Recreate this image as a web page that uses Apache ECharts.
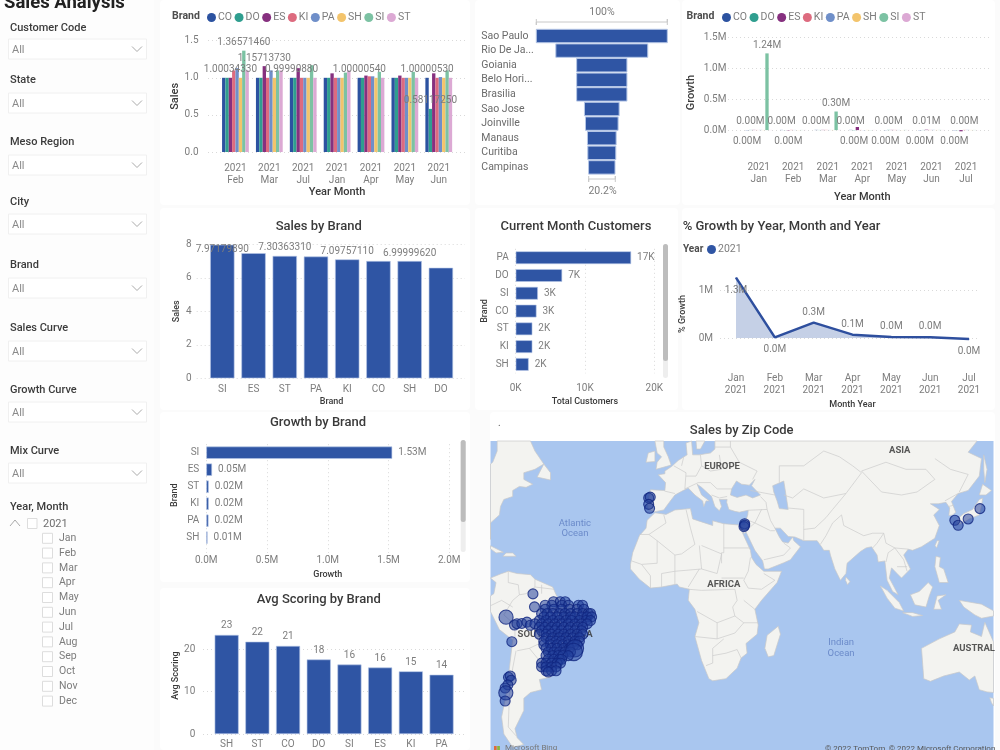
<!DOCTYPE html>
<html lang="en">
<head>
<meta charset="UTF-8">
<title>Sales Analysis</title>
<script src="https://cdn.jsdelivr.net/npm/echarts@6/dist/echarts.min.js"></script>
<style>
  html, body { margin: 0; padding: 0; background: #fbfbfb; overflow: hidden; }
  #main { width: 1000px; height: 750px; }
</style>
</head>
<body>
<div id="main"></div>
<script>
// brands and colours
var brands = ['CO', 'DO', 'ES', 'KI', 'PA', 'SH', 'SI', 'ST'];
var brandColors = ['#2c52a0', '#2f9e8f', '#86307f', '#dd6b7f', '#6f8fc9', '#f3c46c', '#7cc2a3', '#dca9d4'];

// Sales by Year Month and Brand
var salesMonths = ['2021\nFeb', '2021\nMar', '2021\nJul', '2021\nJan', '2021\nApr', '2021\nMay', '2021\nJun'];
var salesCO = [1.0, 1.0, 0.9999088, 1.0, 1.0000054, 1.0, 1.0000053];
var salesDO = [1.0, 1.0, 1.0, 1.0, 1.0, 1.0, 0.5811725];
var salesES = [1.0003433, 1.1571373, 1.13, 1.06, 1.03, 1.03, 1.06];
var salesKI = [1.10, 1.0, 1.0, 1.0, 1.02, 1.0, 1.0];
var salesPA = [1.13, 1.10, 1.0, 1.0, 1.02, 1.0, 1.01];
var salesSH = [1.0, 1.0, 1.0, 1.0, 1.0, 1.0, 1.0];
var salesSI = [1.3657146, 1.10, 1.17, 1.07, 1.08, 1.08, 1.10];
var salesST = [1.10, 1.10, 1.0, 1.10, 1.0, 1.0, 1.0];
var salesLabelled = [[2, 0], [6, 0], [2, 1], [0, 2], [0, 4], [0, 6], [1, 6]];

// Funnel by city
var funnelCities = ['Sao Paulo', 'Rio De Ja...', 'Goiania', 'Belo Hori...', 'Brasilia', 'Sao Jose', 'Joinville', 'Manaus', 'Curitiba', 'Campinas'];
var funnelPct = [100, 70.2, 38.4, 38.4, 38.4, 26.5, 24.9, 21.9, 21.4, 20.2];

// Growth by Year Month and Brand
var growthMonths = ['2021\nJan', '2021\nFeb', '2021\nMar', '2021\nApr', '2021\nMay', '2021\nJun', '2021\nJul'];
var growthCO = [-3000, 2500, 3000, 3000, -2000, -3000, -3000];
var growthDO = [2500, 1500, 2000, -3000, 3000, 2000, -2000];
var growthES = [3000, -4000, 3000, 50000, 3000, 6000, -20000];
var growthKI = [2000, 3000, 3000, 2000, 2500, 2500, 3000];
var growthPA = [2500, 2000, 2000, -2000, 2000, 3000, 3000];
var growthSH = [2000, 1500, 2000, 2000, 1500, 2000, 2000];
var growthSI = [1240000, 2000, 300000, -2000, 2500, 2500, 2000];
var growthST = [2000, 2000, 2500, 2000, 2000, 2000, 1000];
var growthLabelled = [[1, 0], [0, 0], [6, 0], [0, 1], [2, 1], [0, 2], [6, 2], [0, 3], [1, 3], [1, 4], [0, 4], [2, 5], [0, 5], [3, 6], [0, 6]];

// Sales by Brand
var salesBrandNames = ['SI', 'ES', 'ST', 'PA', 'KI', 'CO', 'SH', 'DO'];
var salesBrandValues = [7.9717989, 7.47, 7.3036331, 7.27, 7.0975711, 7.0, 6.9999962, 6.6];
var salesBrandLabelled = ['SI', 'ST', 'KI', 'SH'];

// Current Month Customers
var customerBrands = ['PA', 'DO', 'SI', 'CO', 'ST', 'KI', 'SH'];
var customerValues = [16650, 6700, 3200, 3000, 2400, 2400, 1870];

// % Growth by month
var pctMonths = ['Jan\n2021', 'Feb\n2021', 'Mar\n2021', 'Apr\n2021', 'May\n2021', 'Jun\n2021', 'Jul\n2021'];
var pctValues = [1257000, 14000, 320000, 70000, 20000, 15000, -20000];

// Growth by Brand
var growthBrandNames = ['SI', 'ES', 'ST', 'KI', 'PA', 'SH'];
var growthBrandValues = [1530000, 47000, 20000, 20000, 18000, 10000];

// Avg Scoring by Brand
var scoreBrands = ['SH', 'ST', 'CO', 'DO', 'SI', 'ES', 'KI', 'PA'];
var scoreValues = [23.4, 21.8, 20.8, 17.6, 16.4, 15.7, 14.8, 14.0];

// Slicers
var slicerNames = ['Customer Code', 'State', 'Meso Region', 'City', 'Brand', 'Sales Curve', 'Growth Curve', 'Mix Curve'];
var slicerMonths = ['Jan', 'Feb', 'Mar', 'Apr', 'May', 'Jun', 'Jul', 'Aug', 'Sep', 'Oct', 'Nov', 'Dec'];

// Map: zip points as [lon, lat, sales]
var zipPoints = [
  [-60.9, 1.9, 1], [-60.2, -3.9, 1], [-73, -8.5, 2], [-69.2, -12, 1], [-68.1, -11.4, 1], [-65.9, -11.3, 1], [-63.6, -10.7, 1], [-62.1, -12.1, 1], [-70.4, -19.2, 1],
  [-71.9, -33.5, 1], [-71.1, -33, 1], [-70.7, -34.6, 1], [-72.2, -36.3, 1], [-73.4, -37.4, 1], [-73.1, -39.1, 2], [-73.4, -41.9, 1],
  [-8.8, 41, 1], [-8.1, 41.3, 1], [-8.8, 38.8, 1], [-8.4, 37.4, 1],
  [34.4, 31.7, 1], [34.1, 30.6, 1], [34.4, 31.1, 1],
  [129, 33, 1], [130.5, 31.1, 1], [135, 33.5, 1], [140.3, 37.3, 1],
  [-51.6, -1.6, 1], [-48.6, -1.6, 1], [-46.4, -1.6, 1],
  [-55.4, -3.2, 1], [-52.4, -3.2, 1], [-47.9, -3.2, 1], [-44.9, -3.2, 1], [-40.4, -3.2, 1], [-38.6, -3.2, 1],
  [-55.4, -5, 1], [-51.5, -5, 1], [-48, -5, 1], [-44.5, -5, 1], [-41, -5, 1], [-38, -5, 1],
  [-57, -6.9, 1], [-54.5, -6.9, 1], [-52, -6.9, 1], [-49, -6.9, 1], [-46.5, -6.9, 1], [-44, -6.9, 1], [-41, -6.9, 1], [-38.5, -6.9, 1], [-36, -6.9, 1], [-35, -6.9, 1],
  [-56, -8.4, 1], [-53, -8.4, 1], [-50, -8.4, 1], [-47, -8.4, 1], [-44, -8.4, 1], [-42, -8.4, 1], [-39, -8.4, 1], [-36.5, -8.4, 1], [-34.5, -8.4, 1],
  [-58, -10, 1], [-55, -10, 1], [-52, -10, 1], [-49, -10, 1], [-46, -10, 1], [-43.5, -10, 1], [-40, -10, 1], [-37, -10, 1], [-35, -10, 1],
  [-60, -11.5, 1], [-57, -11.5, 1], [-54, -11.5, 1], [-51, -11.5, 1], [-48, -11.5, 1], [-45, -11.5, 1], [-42, -11.5, 1], [-39, -11.5, 1], [-36.5, -11.5, 1],
  [-58, -13, 1], [-55.5, -13, 1], [-52.5, -13, 1], [-50, -13, 1], [-47, -13, 1], [-44, -13, 1], [-41, -13, 1], [-38.5, -13, 1],
  [-57, -14.5, 1], [-54, -14.5, 1], [-51, -14.5, 1], [-48, -14.5, 1], [-45, -14.5, 1], [-42, -14.5, 1], [-39, -14.5, 1],
  [-58, -16, 1], [-55, -16, 1], [-52.5, -16, 1], [-49.5, -16, 1], [-47, -16, 1], [-44, -16, 1], [-41, -16, 1], [-38.5, -16, 1],
  [-55, -17.5, 1], [-52, -17.5, 1], [-49, -17.5, 1], [-46, -17.5, 1], [-43, -17.5, 1], [-40, -17.5, 1],
  [-56, -19, 1], [-53, -19, 1], [-50.5, -19, 1], [-48, -19, 1], [-45, -19, 1], [-42, -19, 1], [-40, -19, 1],
  [-56, -20.5, 1], [-53, -20.5, 1], [-50, -20.5, 1], [-47.5, -20.5, 1], [-45, -20.5, 1], [-42.5, -20.5, 1], [-41, -20.5, 1],
  [-55, -22, 1], [-52.5, -22, 1], [-50, -22, 1], [-47, -22, 1], [-44.5, -22, 1], [-42, -22, 3],
  [-54, -23.5, 1], [-51.5, -23.5, 1], [-49, -23.5, 1], [-46.5, -23.5, 1], [-44, -23.5, 1], [-42.5, -23.5, 3],
  [-55, -25, 1], [-52, -25, 1], [-49.5, -25, 1], [-47.5, -25, 1], [-45, -25, 1],
  [-54, -26.5, 1], [-51.5, -26.5, 1], [-49, -26.5, 1], [-48, -26.5, 1],
  [-57, -28, 1], [-55, -28, 1], [-52.5, -28, 1], [-50, -28, 1], [-48.5, -28, 1],
  [-57, -29.5, 1], [-55, -29.5, 1], [-52.5, -29.5, 1], [-50.5, -29.5, 1],
  [-55, -31, 1], [-52.5, -31, 1], [-50.5, -31, 1], [-54, -31.5, 1]
];
var mapContinentLabels = [['EUROPE', 24.2, 50.9], ['ASIA', 104.2, 55.1], ['AFRICA', 25, 6.1], ['SOUTH AMERICA', -50.9, -16.1], ['AUSTRAL', 137.6, -22]];
var mapOceanLabels = [['Atlantic\nOcean', -42, 29.9], ['Indian\nOcean', 77.8, -22]];

// Map: simplified land outlines (lon, lat), cut at the frame of the picture
var landEurasia = [[-6, 36.2], [-2, 36.8], [0, 39], [3, 42], [6, 43.2], [9, 44.3], [12, 42], [15.5, 40], [16, 38], [17, 40], [18.5, 40], [15, 42], [13, 45.5], [15, 44.5], [19.5, 41.5], [21, 38], [23, 36.5], [24, 38], [23, 40.5], [26.5, 40.5], [26.3, 39.5], [27.3, 37], [30, 36.3], [32, 36], [36, 36.7], [35.8, 35], [34.3, 31.3], [32.5, 31], [32.5, 30], [34.2, 27.8], [35, 28.5], [39, 21], [42.5, 16.5], [43.3, 13], [45, 13], [52, 15.7], [55, 17], [59.5, 22.5], [56.5, 25], [56, 26.5], [54, 24], [51.5, 24.5], [50, 26.5], [48, 30], [50.5, 30], [54, 26.7], [57, 26.5], [61, 25], [67, 25], [69, 22.5], [70, 21], [72.5, 21], [73, 19], [75, 13], [77.5, 8], [80, 11], [80.5, 15.5], [86.5, 20.5], [89, 22], [91.5, 22.5], [94, 19], [94.5, 16], [97.5, 16.5], [98.5, 8], [101, 3], [103.5, 1.5], [99.5, 9], [100.5, 13.5], [103, 11], [105, 9], [109, 13], [106, 19], [108, 21.5], [110, 21], [114, 22.5], [120, 26], [122, 31], [119.5, 35], [122, 37], [118, 39], [121.5, 39], [125, 39.5], [126.7, 37.5], [126.3, 34.8], [128, 35], [129.4, 36], [127.5, 39.8], [130.5, 42.5], [135, 43.5], [140, 48], [141, 53], [135, 54.7], [139, 57.5], [21, 57.5], [21, 55.5], [19, 54.5], [14, 54], [11, 54], [10.5, 57.5], [8, 57], [8.5, 54], [4.5, 52.5], [1.5, 50.8], [-1.5, 49.5], [-1.5, 48.7], [-4.5, 48.4], [-1.2, 46], [-1.5, 43.5], [-8, 43.7], [-9.3, 39], [-9, 37], [-6, 36.2]];
var blackSea = [[28, 42], [28.5, 44], [30.7, 46.5], [33, 45.5], [36.5, 45.2], [39, 47], [37.5, 45], [41.5, 42], [38, 41], [35, 42], [31, 41.2], [28, 42]];
var caspianSea = [[47, 45], [52, 46.5], [53, 42], [54, 37], [50, 37.3], [49, 40], [47.5, 43], [47, 45]];
var landAfrica = [[-6, 35.8], [-1, 35.2], [3, 36.8], [10, 37.3], [11, 33.5], [15, 32.4], [20, 31], [20, 32.8], [25, 31.7], [32, 31.2], [32.5, 30], [34, 27], [37, 21], [37.5, 18], [39.5, 15], [43, 12], [51, 12], [49, 7], [42, -1], [39, -5], [40.5, -12], [40, -16], [35, -20], [35.5, -24], [32.8, -26], [31, -30], [26, -34], [20, -34.8], [18.3, -34], [15, -27], [12, -17], [13.8, -11], [12, -5], [9, -1], [9.5, 4], [5, 5], [4, 6.3], [-3, 5], [-8, 4.5], [-13, 8.5], [-17, 13], [-17, 15], [-16, 20], [-13, 27], [-10, 30], [-9.5, 33], [-6, 35.8]];
var landSouthAmerica = [[-80, 9], [-75.5, 10.8], [-72, 12], [-68, 11], [-62, 10.5], [-60, 8.5], [-52, 5], [-50, 0.5], [-44, -2.5], [-37, -4.8], [-35, -7.5], [-39, -14], [-39, -18], [-41, -22], [-48, -25.5], [-48.7, -28], [-53, -33.5], [-58, -34.3], [-57, -38], [-62, -39], [-65, -41], [-65, -45], [-69, -50.5], [-68, -53], [-65, -54.8], [-70, -55.5], [-74, -52], [-75, -47], [-73, -40], [-71.5, -30], [-70, -18.5], [-76, -14], [-80, -6], [-80, 1], [-78.5, 2], [-77.5, 7], [-80, 9]];
var landNorthAmerica = [[-80, 25.5], [-80, 32], [-76, 35], [-75.5, 38], [-74, 40.5], [-70, 41.5], [-70, 43.5], [-67, 44.8], [-64, 44.5], [-61, 45.5], [-65, 47], [-65, 49], [-60, 50], [-56, 51.5], [-60, 55], [-62, 57.5], [-77, 57.5], [-77, 55], [-79, 52], [-80, 51.5], [-80, 25.5]];
var landAustralia = [[146.4, -19.3], [142.5, -10.8], [141, -17], [136, -15], [136.5, -12], [131, -11.5], [129, -15], [122, -18], [114, -22], [115, -34], [118, -35], [124, -33], [131, -31.5], [135.5, -34.5], [138, -33], [140, -38], [143.5, -38.8], [146.4, -39], [146.4, -19.3]];
var landIslands = [
  [[-59, 47.7], [-53, 46.8], [-53, 49], [-56, 51.5], [-58, 49], [-59, 47.7]],
  [[-80, 22.9], [-74.2, 20.2], [-77.5, 19.9], [-80, 21.7], [-80, 22.9]],
  [[-74.4, 18.5], [-68.5, 18.5], [-70, 19.9], [-73, 19.9], [-74.4, 18.5]],
  [[-5.5, 50], [1.3, 51.2], [0, 53.5], [-2, 56], [-2, 57.5], [-6, 57.5], [-5, 54.5], [-3, 53.5], [-5, 52], [-5.5, 50]],
  [[-10, 52], [-6, 52.2], [-6, 55], [-9, 54.5], [-10, 52]],
  [[12.5, 57.5], [12.8, 55.5], [14.5, 55.5], [16.5, 57.5], [12.5, 57.5]],
  [[49.5, -12.5], [50.5, -16], [47.5, -25], [45, -25.5], [43.5, -22], [44.5, -16.5], [49.5, -12.5]],
  [[80, 9.5], [81.8, 7.5], [80.7, 6], [79.8, 8], [80, 9.5]],
  [[95.5, 5.5], [98.5, 3.5], [104, -2], [106, -5.8], [102, -4.5], [98.5, 0], [95.5, 5.5]],
  [[105.5, -6.5], [110, -6.5], [114.5, -7.8], [110, -8.2], [105.5, -6.5]],
  [[109, 1.5], [113, 3], [117, 7], [119, 5], [117.5, 1], [116, -4], [111, -3], [109, 1.5]],
  [[119.5, -5], [121, 1], [125, 1.5], [121.5, -1], [123, -5], [119.5, -5]],
  [[120.5, 18.5], [122.5, 18], [122, 14], [124, 13], [126, 7], [122, 7], [120, 14], [120.5, 18.5]],
  [[131, -1], [141, -2.7], [146.4, -5.7], [146.4, -8], [141, -9], [138, -7.5], [133, -4], [131, -1]],
  [[121, 25], [122, 25], [120.8, 22], [120.1, 23], [121, 25]],
  [[130, 31.5], [131.5, 31.5], [135.5, 33.5], [140, 35], [141, 38], [141.5, 41], [140, 40.5], [137, 37], [133, 35.5], [130.8, 34], [130, 31.5]],
  [[140, 42], [141.5, 45.5], [145.5, 43.5], [143, 42], [140, 42]],
  [[142, 54], [143.5, 50], [142.5, 46], [142, 50], [142, 54]],
  [[144.7, -40.8], [146.4, -41], [146.4, -43.5], [145.5, -42.5], [144.7, -40.8]]
];
var borderLines = [
  [[-51.5, 4], [-60, 5], [-64, 2], [-67, 1.5], [-70, -1], [-74, -7.5], [-70, -11], [-65, -10], [-60, -14], [-58, -20], [-54.5, -25.5], [-57.5, -30], [-53.5, -33.7]],
  [[-72, 12], [-72, 7], [-67.5, 6], [-67, 1.5]], [[-80, -3.4], [-75, -1], [-70, -4]], [[-69, -11], [-69, -17], [-70, -18.5]],
  [[-68.5, -23], [-70, -30], [-71.5, -40], [-72, -50], [-68.5, -52.5]], [[-68, -23], [-62.5, -22], [-58, -20]], [[-60, 8.5], [-60, 5]], [[-57, 6], [-57, 2]], [[-62.5, -22], [-58, -27], [-54.5, -25.5]],
  [[-13, 27.5], [-8.7, 27.5]], [[-2, 35], [-1, 32], [-8.7, 27.5], [-5, 25], [3, 19], [6, 19.5], [12, 23.5], [10, 30], [8, 37]], [[25, 31.7], [25, 20], [24, 20], [24, 15.5]], [[25, 22], [37, 22]],
  [[15, 23], [24, 19.5], [22, 11], [15, 13], [14, 23]], [[3, 19], [3, 12], [15, 13]], [[3, 6.3], [3, 12]], [[14, 13], [9, 5]], [[-16.5, 16.5], [-12, 15], [-5, 15.5], [-5, 25]],
  [[-12, 15], [-8, 10], [-8, 4.5]], [[-3, 5], [-3, 11], [3, 12]], [[37, 18], [36, 12], [34, 8], [36, 4.5], [42, 4], [48, 8], [43, 11]],
  [[9, 4], [15, 3.5], [30, 4], [31, -1], [29, -4], [30, -8], [22, -11], [13, -6]], [[24, 9], [34, 9]], [[34, -1], [39, -5]], [[30, -8], [34, -11], [40.5, -11]],
  [[12, -17], [22, -18], [22, -11]], [[22, -18], [30, -15.5], [34, -11]], [[17, -29], [20, -28], [20, -22], [25, -18]], [[20, -25], [26, -24], [31, -22.5], [32.8, -26]],
  [[-9, 42], [-6.5, 42], [-7, 37.2]], [[-1.7, 43.3], [3, 42.5]], [[2.5, 51], [8, 49], [7.5, 44]], [[6, 51], [7, 53.5]], [[14.5, 54], [15, 51], [12.5, 48], [8, 48]],
  [[15, 51], [19, 49.5], [24, 50], [23, 54]], [[24, 51.5], [32, 52], [40, 49.5], [38, 47]], [[21, 56], [28, 56], [28, 57.5]], [[28, 56], [32, 52]],
  [[13.5, 46], [19, 46], [22, 44], [26, 44], [28.5, 44]], [[19.5, 42], [23, 41], [26.5, 41.5]], [[7.5, 44], [13.5, 46]], [[36, 36.7], [44.5, 37], [44, 39.5], [41.5, 41.5]], [[37, 43.5], [48, 42]],
  [[36, 33], [39, 32], [42, 37]], [[35, 29], [39, 32], [46, 29], [48, 29]], [[43, 17], [52, 19], [55, 22], [52, 24]], [[44.5, 37], [46, 33], [48, 30]], [[61, 25.2], [61, 31], [61, 37], [54, 37.5]],
  [[61, 29.5], [66, 30], [71, 34], [74, 37]], [[52, 42], [56, 41], [61, 44], [70, 41], [80, 42.5]], [[50, 46], [50, 51], [61, 51], [70, 55], [77, 53.5], [83, 51], [87, 49]], [[74, 37], [80, 42.5], [87, 49]],
  [[87, 49.5], [98, 52], [107, 50], [116, 50], [120, 47], [112, 43], [105, 42], [96, 43], [87, 49.5]], [[120, 53], [127, 50], [135, 48.5], [131, 43]],
  [[68.5, 23.5], [71, 27], [74, 32], [78, 35], [79, 31], [88, 27], [92, 28], [97, 28], [94, 24], [92, 22]], [[97, 28], [98, 24], [102, 22], [108, 21.5]], [[98, 16], [99, 20], [102, 22]],
  [[102, 22], [106, 17], [107.5, 12]], [[103, 14], [107.5, 14]], [[126, 38], [128.5, 38.5]], [[124.5, 40], [130.5, 42.5]]
];

// ---- styles
var FONT = 'Roboto, "Noto Sans", sans-serif';
var BLUE = '#2f55a4';
var BAR_EDGE = '#b5c6e6';
var TICK = '#7d7d7d';
var DARK = '#3a3a3a';
var tickFont = { color: TICK, fontSize: 10, fontFamily: FONT };

var option = {
  animation: false,
  backgroundColor: '#fbfbfb',
  textStyle: { fontFamily: FONT },
  grid: [], xAxis: [], yAxis: [], series: [], legend: [], graphic: []
};
var g = option.graphic;

function dotted(extra) {
  return Object.assign({ show: true, lineStyle: { color: '#d9d9d9', type: [1, 3], width: 1 } }, extra);
}
function axisName(size, padding) {
  return { color: DARK, fontSize: size, fontWeight: 500, fontFamily: FONT, padding: padding || 0 };
}
function text(x, y, str, fill, size, weight, align) {
  g.push({
    type: 'text', z: 20, silent: true,
    style: { x: x, y: y, text: str, fill: fill, textAlign: align || 'left', textVerticalAlign: 'middle', font: (weight || 400) + ' ' + size + 'px ' + FONT }
  });
}
function rect(x, y, w, h, fill, stroke, r, z) {
  g.push({ type: 'rect', z: z == null ? -10 : z, silent: true, shape: { x: x, y: y, width: w, height: h, r: r || 0 }, style: { fill: fill, stroke: stroke || null, lineWidth: 1 } });
}
function chevron(cx, cy, w, h, up) {
  g.push({ type: 'polyline', z: 20, silent: true, shape: { points: [[cx - w, cy + (up ? h : -h)], [cx, cy + (up ? -h : h)], [cx + w, cy + (up ? h : -h)]] }, style: { stroke: '#aaaaaa', lineWidth: 1, fill: null } });
}
function bracket(x1, x2, y) {
  g.push({ type: 'polyline', z: 20, silent: true, shape: { points: [[x1, y - 3], [x1, y + 3], [x1, y], [x2, y], [x2, y - 3], [x2, y + 3]] }, style: { stroke: '#c8c8c8', lineWidth: 1, fill: null } });
}
function addPlot(box, x, y) {
  option.grid.push({ left: box[0], top: box[1], width: box[2] - box[0], height: box[3] - box[1] });
  x.gridIndex = y.gridIndex = option.grid.length - 1;
  option.xAxis.push(x);
  option.yAxis.push(y);
  return option.grid.length - 1;
}
// the report's gridlines run wider than the bars: a bare plot behind the real one
function backLines(box, min, max, interval, split) {
  addPlot(box, { type: 'value', show: false, min: 0, max: 1 }, {
    type: 'value', min: min, max: max, interval: interval,
    axisLine: { show: false }, axisTick: { show: false }, axisLabel: { show: false }, splitLine: split || dotted()
  });
}
function catAxis(names, extra) {
  return Object.assign({
    type: 'category', data: names,
    axisLine: { show: false }, axisTick: { show: false }, axisLabel: Object.assign({}, tickFont), splitLine: { show: false }
  }, extra);
}
function valAxis(extra) {
  return Object.assign({
    type: 'value', axisLine: { show: false }, axisTick: { show: false }, axisLabel: Object.assign({}, tickFont), splitLine: dotted()
  }, extra);
}
function millions(d) {
  return function (v) { return (Math.abs(v) / 1e6).toFixed(d) + 'M'; };
}
var noSplit = { show: false };

// ---- panels
rect(0, 0, 154, 750, '#fdfdfd');
[[160, 0, 310, 205], [475, 0, 205, 205], [682, 0, 313, 205], [160, 208, 310, 202], [475, 208, 203, 202], [682, 208, 313, 202], [160, 412, 310, 170], [160, 588, 310, 162], [490, 412, 505, 338]].forEach(function (p) {
  rect(p[0], p[1], p[2], p[3], '#ffffff', null, 4);
});

// ---- slicers
text(4, 3.5, 'Sales Analysis', '#222222', 18.5, 700);
var slicerLabelY = [28, 80, 142, 202, 265, 328, 390, 451];
var slicerBoxY = [49, 103, 165, 224, 288, 351, 412, 473];
slicerNames.forEach(function (name, i) {
  text(10, slicerLabelY[i], name, '#3c3c3c', 11, 500);
  rect(8.5, slicerBoxY[i] - 10, 138, 20, '#ffffff', '#f0f0f0', 0, 1);
  text(12, slicerBoxY[i] + 1, 'All', '#8a8a8a', 11);
  chevron(137, slicerBoxY[i], 5, 2.5);
});
text(10, 507.5, 'Year, Month', '#3c3c3c', 11, 500);
chevron(15, 523, 5, 3, true);
rect(27.5, 518.5, 9.5, 10, '#ffffff', '#dddddd', 0, 1);
text(43, 524, '2021', '#6e6e6e', 11);
slicerMonths.forEach(function (m, i) {
  var y = 538.3 + i * 14.8;
  rect(42.5, y - 5, 10, 10, '#ffffff', '#dddddd', 0, 1);
  text(59, y, m, '#7c7c7c', 10.5);
});

// ---- chart 1: Sales by Year Month and Brand
var salesSeries = [salesCO, salesDO, salesES, salesKI, salesPA, salesSH, salesSI, salesST];
backLines([208, 40.7, 467, 152], 0, 1.5, 0.5);
var p1 = addPlot([218.5, 40.7, 455.7, 152],
  catAxis(salesMonths, { name: 'Year Month', nameLocation: 'middle', nameGap: 33, nameTextStyle: axisName(11), axisLabel: Object.assign({}, tickFont, { margin: 10, lineHeight: 12 }) }),
  valAxis({ min: 0, max: 1.5, interval: 0.5, splitLine: noSplit, axisLabel: Object.assign({}, tickFont, { margin: 20, formatter: function (v) { return v.toFixed(1); } }), name: 'Sales', nameLocation: 'middle', nameGap: 33, nameTextStyle: axisName(11) }));
brands.forEach(function (b, i) {
  option.series.push({
    type: 'bar', name: b, xAxisIndex: p1, yAxisIndex: p1, barGap: 0, barCategoryGap: '21%',
    itemStyle: { color: brandColors[i] },
    label: { show: false, position: 'top', distance: 3, color: TICK, fontSize: 10, fontFamily: FONT, formatter: function (p) { return p.value.toFixed(8); } },
    data: salesSeries[i].map(function (v, m) {
      var on = salesLabelled.some(function (l) { return l[0] === i && l[1] === m; });
      return on ? { value: v, label: { show: true } } : v;
    })
  });
});
text(172, 16, 'Brand', '#4d4d4d', 10.5, 700);
option.legend.push({
  left: 202, top: 7, itemWidth: 9, itemHeight: 9, itemGap: 2.5, icon: 'circle', selectedMode: false, data: brands,
  textStyle: { color: TICK, fontSize: 10.5, fontFamily: FONT, padding: [0, 0, 0, -3] }
});

// ---- chart 2: funnel
var p2 = addPlot([536.3, 28.7, 667.3, 174.7],
  { type: 'value', min: 0, max: 100, show: false },
  catAxis(funnelCities, { inverse: true, axisLabel: { color: '#6b6b6b', fontSize: 10.5, fontFamily: FONT, align: 'left', margin: 55 } }));
option.series.push({
  type: 'custom', name: 'Funnel', xAxisIndex: p2, yAxisIndex: p2,
  data: funnelPct.map(function (v, i) { return [v, i]; }),
  encode: { x: 0, y: 1 },
  renderItem: function (params, api) {
    var pct = api.value(0), row = api.value(1);
    var a = api.coord([50 - pct / 2, row]), b = api.coord([50 + pct / 2, row]);
    return { type: 'rect', shape: { x: a[0], y: a[1] - 6.7, width: b[0] - a[0], height: 13.4 }, style: { fill: BLUE, stroke: BAR_EDGE, lineWidth: 1 } };
  }
});
text(602, 12, funnelPct[0] + '%', TICK, 10.5, 400, 'center');
bracket(536.3, 667.3, 22);
text(602.5, 191, funnelPct[funnelPct.length - 1] + '%', TICK, 10.5, 400, 'center');
bracket(588.7, 615.3, 179);

// ---- chart 3: Growth by Year Month and Brand
var growthSeries = [growthCO, growthDO, growthES, growthKI, growthPA, growthSH, growthSI, growthST];
backLines([728, 37.3, 990, 161], -500000, 1500000, 500000, dotted({ showMinLine: false }));
var p3 = addPlot([741.4, 37.3, 983.3, 161],
  catAxis(growthMonths, { name: 'Year Month', nameLocation: 'middle', nameGap: 31, nameTextStyle: axisName(11), axisLabel: Object.assign({}, tickFont, { margin: 0.5, lineHeight: 12 }) }),
  valAxis({ min: -500000, max: 1500000, interval: 500000, splitLine: noSplit, axisLabel: Object.assign({}, tickFont, { margin: 15, formatter: function (v) { return v < 0 ? '' : millions(1)(v); } }), name: 'Growth', nameLocation: 'middle', nameGap: 45, nameTextStyle: axisName(11, [0, 0, 0, 13]) }));
brands.forEach(function (b, i) {
  option.series.push({
    type: 'bar', name: b, xAxisIndex: p3, yAxisIndex: p3, barGap: 0, barCategoryGap: '23%',
    itemStyle: { color: brandColors[i] },
    label: { show: false, position: 'top', distance: 3, color: TICK, fontSize: 10, fontFamily: FONT, formatter: function (p) { return millions(2)(p.value); } },
    data: growthSeries[i].map(function (v, m) {
      var on = growthLabelled.some(function (l) { return l[0] === i && l[1] === m; });
      if (!on) return v;
      return { value: v, label: v < 0 ? { show: true, position: 'bottom', distance: 6 } : { show: true } };
    })
  });
});
text(686.5, 16, 'Brand', '#4d4d4d', 10.5, 700);
option.legend.push({
  left: 717, top: 7, itemWidth: 9, itemHeight: 9, itemGap: 2.5, icon: 'circle', selectedMode: false, data: brands,
  textStyle: { color: TICK, fontSize: 10.5, fontFamily: FONT, padding: [0, 0, 0, -3] }
});

// ---- chart 5: Sales by Brand
text(318.7, 226.7, 'Sales by Brand', DARK, 13, 500, 'center');
backLines([196.7, 244.3, 465, 378.3], 0, 8, 2);
var p5 = addPlot([206.7, 244.3, 456.5, 378.3],
  catAxis(salesBrandNames, { name: 'Brand', nameLocation: 'middle', nameGap: 19, nameTextStyle: axisName(9), axisLabel: Object.assign({}, tickFont, { margin: 6.5 }) }),
  valAxis({ min: 0, max: 8, interval: 2, splitLine: noSplit, axisLabel: Object.assign({}, tickFont, { margin: 15 }), name: 'Sales', nameLocation: 'middle', nameGap: 25, nameTextStyle: axisName(9) }));
option.series.push({
  type: 'bar', name: 'Sales', xAxisIndex: p5, yAxisIndex: p5, barWidth: 24.3,
  itemStyle: { color: BLUE, borderColor: BAR_EDGE, borderWidth: 0.6 },
  label: { show: false, color: TICK, fontSize: 10, fontFamily: FONT, formatter: function (p) { return p.value.toFixed(8); } },
  data: salesBrandValues.map(function (v, i) {
    var name = salesBrandNames[i];
    if (salesBrandLabelled.indexOf(name) < 0) return v;
    var inside = v > 7.9;
    return { value: v, label: { show: true, position: inside ? 'insideTop' : 'top', distance: inside ? 0 : 3 } };
  })
});

// ---- chart 6: Current Month Customers
text(500.5, 226.7, 'Current Month Customers', DARK, 13, 500);
var p6 = addPlot([515.7, 248.8, 654.3, 373.3],
  valAxis({ min: 0, max: 20000, interval: 10000, axisLabel: Object.assign({}, tickFont, { margin: 10.5, formatter: function (v) { return (v / 1000) + 'K'; } }), name: 'Total Customers', nameLocation: 'middle', nameGap: 23.5, nameTextStyle: axisName(9) }),
  catAxis(customerBrands, { inverse: true, axisLabel: Object.assign({}, tickFont, { margin: 7 }), name: 'Brand', nameLocation: 'middle', nameGap: 26, nameTextStyle: axisName(9) }));
option.series.push({
  type: 'bar', name: 'Total Customers', xAxisIndex: p6, yAxisIndex: p6, barWidth: 12.7, data: customerValues,
  itemStyle: { color: BLUE, borderColor: BAR_EDGE, borderWidth: 0.6 },
  label: { show: true, position: 'right', distance: 6, color: TICK, fontSize: 10, fontFamily: FONT, formatter: function (p) { return Math.round(p.value / 1000) + 'K'; } }
});
rect(663, 244, 5, 134, '#eeeeee', null, 2.5, 15);
rect(663, 244, 5, 117, '#bdbdbd', null, 2.5, 16);

// ---- chart 7: % Growth
text(682.7, 226.7, '% Growth by Year, Month and Year', DARK, 13, 500);
backLines([720, 242, 980, 386], -1000000, 2000000, 1000000, dotted({ showMinLine: false, showMaxLine: false }));
var p7 = addPlot([736, 242, 969, 386],
  catAxis(pctMonths, { boundaryGap: false, axisLabel: Object.assign({}, tickFont, { margin: -14, lineHeight: 12 }), name: 'Month Year', nameLocation: 'middle', nameGap: 14, nameTextStyle: axisName(9) }),
  valAxis({ min: -1000000, max: 2000000, interval: 1000000, splitLine: noSplit, axisLabel: Object.assign({}, tickFont, { margin: 23, formatter: function (v) { return v < 0 || v > 1000000 ? '' : (v / 1e6) + 'M'; } }), name: '% Growth', nameLocation: 'middle', nameGap: 49, nameTextStyle: axisName(9) }));
option.series.push({
  type: 'line', name: '2021', xAxisIndex: p7, yAxisIndex: p7, symbol: 'circle', symbolSize: 1, showSymbol: true, showAllSymbol: true,
  lineStyle: { color: '#2e4f9e', width: 2.5 }, itemStyle: { color: BLUE },
  areaStyle: { color: 'rgba(47,85,164,0.4)', origin: 0 },
  label: { show: true, position: 'top', distance: 5, color: TICK, fontSize: 10, fontFamily: FONT, formatter: function (p) { return millions(1)(p.value); } },
  data: pctValues.map(function (v, i) {
    return i === 0 || i === 1 || v < 0 ? { value: v, label: { position: 'bottom', distance: 7 } } : v;
  })
});
text(683, 249, 'Year', '#4d4d4d', 10, 700);
option.legend.push({
  left: 702, top: 239, itemWidth: 9, itemHeight: 9, icon: 'circle', selectedMode: false, data: ['2021'],
  textStyle: { color: TICK, fontSize: 10.5, fontFamily: FONT, padding: [0, 0, 0, -3] }
});

// ---- chart 8: Growth by Brand
text(318, 422.7, 'Growth by Brand', DARK, 13, 500, 'center');
addPlot([206.3, 444.2, 449.3, 553],
  { type: 'value', min: 0, max: 2000000, interval: 500000, axisLine: { show: false }, axisTick: { show: false }, axisLabel: { show: false }, splitLine: dotted() },
  { type: 'value', show: false, min: 0, max: 1 });
var p8 = addPlot([206.3, 444.2, 449.3, 546.2],
  valAxis({ min: 0, max: 2000000, interval: 500000, splitLine: noSplit, axisLabel: Object.assign({}, tickFont, { margin: 9.5, formatter: millions(1) }), name: 'Growth', nameLocation: 'middle', nameGap: 24, nameTextStyle: axisName(9) }),
  catAxis(growthBrandNames, { inverse: true, axisLabel: Object.assign({}, tickFont, { margin: 7 }), name: 'Brand', nameLocation: 'middle', nameGap: 27, nameTextStyle: axisName(9) }));
option.series.push({
  type: 'bar', name: 'Growth', xAxisIndex: p8, yAxisIndex: p8, barWidth: 12.3, data: growthBrandValues,
  itemStyle: { color: BLUE, borderColor: BAR_EDGE, borderWidth: 0.6 },
  label: { show: true, position: 'right', distance: 6, color: TICK, fontSize: 10, fontFamily: FONT, formatter: function (p) { return millions(2)(p.value); } }
});
rect(460.7, 440, 5, 112, '#eeeeee', null, 2.5, 15);
rect(460.7, 440, 5, 82, '#bdbdbd', null, 2.5, 16);

// ---- chart 9: Avg Scoring by Brand
text(318.7, 600, 'Avg Scoring by Brand', DARK, 13, 500, 'center');
backLines([203, 607, 465, 734], 0, 30, 10, dotted({ showMaxLine: false }));
var p9 = addPlot([211.3, 607, 456.9, 734],
  catAxis(scoreBrands, { axisLabel: Object.assign({}, tickFont, { margin: 5 }) }),
  valAxis({ min: 0, max: 30, interval: 10, splitLine: noSplit, axisLabel: Object.assign({}, tickFont, { margin: 16, formatter: function (v) { return v > 20 ? '' : v; } }), name: 'Avg Scoring', nameLocation: 'middle', nameGap: 30, nameTextStyle: axisName(9, [0, 10, 0, 0]) }));
option.series.push({
  type: 'bar', name: 'Avg Scoring', xAxisIndex: p9, yAxisIndex: p9, barWidth: 24, data: scoreValues,
  itemStyle: { color: BLUE, borderColor: BAR_EDGE, borderWidth: 0.6 },
  label: { show: true, position: 'top', distance: 4, color: TICK, fontSize: 10, fontFamily: FONT, formatter: function (p) { return Math.round(p.value); } }
});

// ---- map: Sales by Zip Code
function polyFeature(name, rings) {
  return { type: 'Feature', properties: { name: name }, geometry: { type: 'Polygon', coordinates: rings } };
}
var worldFeatures = [
  polyFeature('Eurasia', [landEurasia, blackSea, caspianSea]),
  polyFeature('Africa', [landAfrica]),
  polyFeature('South America', [landSouthAmerica]),
  polyFeature('North America', [landNorthAmerica]),
  polyFeature('Australia', [landAustralia])
].concat(landIslands.map(function (ring, i) { return polyFeature('Island ' + i, [ring]); }));
echarts.registerMap('worldLite', { type: 'FeatureCollection', features: worldFeatures });

text(741.7, 430.7, 'Sales by Zip Code', DARK, 13, 500, 'center');
text(498, 423, '.', '#555555', 10);
rect(490.5, 441, 503, 309, '#a9c6ef', null, 0, -9);
option.geo = {
  map: 'worldLite', silent: true, roam: false, left: 490.5, top: 441, width: 503, height: 309,
  boundingCoords: [[-80, 57.5], [146.4, -56.2]],
  projection: {
    project: function (p) { return [p[0] * Math.PI / 180, -Math.log(Math.tan(Math.PI / 4 + p[1] * Math.PI / 360))]; },
    unproject: function (p) { return [p[0] * 180 / Math.PI, (2 * Math.atan(Math.exp(-p[1])) - Math.PI / 2) * 180 / Math.PI]; }
  },
  itemStyle: { areaColor: '#f3f3f0', borderColor: '#c8c8c8', borderWidth: 0.7 },
  emphasis: { disabled: true },
  label: { show: false }
};
option.series.push({
  type: 'lines', name: 'Borders', coordinateSystem: 'geo', polyline: true, silent: true, z: 2,
  lineStyle: { color: '#cccccc', width: 0.7, opacity: 1 },
  data: borderLines.map(function (l) { return { coords: l }; })
});
option.series.push({
  type: 'scatter', name: 'Map labels', coordinateSystem: 'geo', symbolSize: 0, silent: true, z: 3,
  label: { show: true, position: 'inside', color: '#2f2f2f', fontSize: 9.5, fontWeight: 700, fontFamily: FONT, formatter: function (p) { return p.data[2]; } },
  data: mapContinentLabels.map(function (d) { return [d[1], d[2], d[0]]; })
});
option.series.push({
  type: 'scatter', name: 'Ocean labels', coordinateSystem: 'geo', symbolSize: 0, silent: true, z: 3,
  label: { show: true, position: 'inside', color: '#5b7cc0', fontSize: 9.5, lineHeight: 10.5, fontFamily: FONT, formatter: function (p) { return p.data[2]; } },
  data: mapOceanLabels.map(function (d) { return [d[1], d[2], d[0]]; })
});
option.series.push({
  type: 'scatter', name: 'Sales', coordinateSystem: 'geo', z: 5, silent: true,
  symbolSize: function (v) { return 10 * Math.sqrt(v[2]); },
  itemStyle: { color: 'rgba(34,62,156,0.68)', borderColor: '#102680', borderWidth: 1.1 },
  data: zipPoints
});
text(505, 748, 'Microsoft Bing', '#777777', 8);
rect(494, 746, 2.7, 4, '#e06a3a', null, 0, 15);
rect(497.2, 746, 2.7, 4, '#8ab63a', null, 0, 15);
text(825, 749, '\u00a9 2022 TomTom, \u00a9 2022 Microsoft Corporation', '#555555', 8);

var chart = echarts.init(document.getElementById('main'));
chart.setOption(option);
</script>
</body>
</html>
